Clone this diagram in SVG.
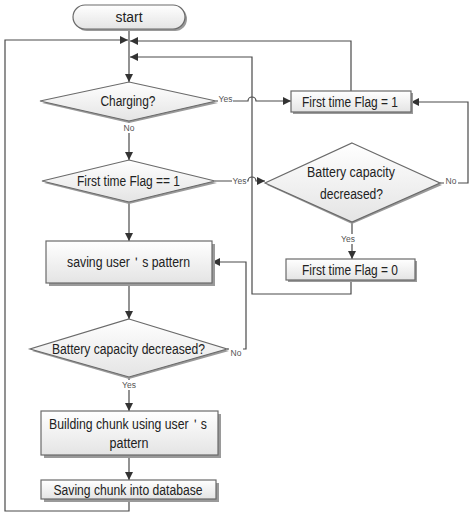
<svg xmlns="http://www.w3.org/2000/svg" width="474" height="516" viewBox="0 0 474 516">
<style>
.node{fill:url(#g);stroke:#6a6a6a;stroke-width:1.2}
.sh{fill:#9a9a9a}
.t{font-family:"Liberation Sans",Arial,sans-serif;font-size:14px;fill:#222;text-anchor:middle}
.lbl{font-family:"Liberation Sans",Arial,sans-serif;font-size:8.5px;fill:#555;text-anchor:middle}
.c{fill:none;stroke:#4a4a4a;stroke-width:1.2}
.bg{fill:#fff}
</style>
<defs>
<linearGradient id="g" x1="0" y1="0" x2="0" y2="1">
<stop offset="0" stop-color="#ffffff"/>
<stop offset="1" stop-color="#e4e4e4"/>
</linearGradient>
<marker id="a" markerWidth="8" markerHeight="8" refX="8" refY="4" orient="auto" markerUnits="userSpaceOnUse">
<path d="M0,0 L8,4 L0,8 z" fill="#333"/>
</marker>
</defs>
<rect width="474" height="516" fill="#fff"/>

<g id="connectors">
<path class="c" d="M129,29 V82" marker-end="url(#a)"/>
<path class="c" d="M129,121 V160" marker-end="url(#a)"/>
<path class="c" d="M129,202 V241" marker-end="url(#a)"/>
<path class="c" d="M129,283 V319" marker-end="url(#a)"/>
<path class="c" d="M129,377 V411" marker-end="url(#a)"/>
<path class="c" d="M129,455 V480" marker-end="url(#a)"/>
<path class="c" d="M129,499 V511 H5 V40 H128" marker-end="url(#a)"/>
<path class="c" d="M216,101 H248 A4,4 0 0 1 256,101 H291" marker-end="url(#a)"/>
<path class="c" d="M351,91 V41 H130" marker-end="url(#a)"/>
<path class="c" d="M215,181 H248 A4,4 0 0 1 256,181 H265" marker-end="url(#a)"/>
<path class="c" d="M440,183 H468 V102 H411" marker-end="url(#a)"/>
<path class="c" d="M352,222 V259" marker-end="url(#a)"/>
<path class="c" d="M351,280 V294 H252 V57 H130" marker-end="url(#a)"/>
<path class="c" d="M227,349 H246 V262 H212" marker-end="url(#a)"/>
<rect class="bg" x="218" y="94" width="15" height="10"/>
<text class="lbl" x="225.5" y="102">Yes</text>
<rect class="bg" x="122" y="123" width="14" height="10"/>
<text class="lbl" x="129" y="131">No</text>
<rect class="bg" x="232" y="176" width="15" height="10"/>
<text class="lbl" x="239.5" y="184">Yes</text>
<rect class="bg" x="444" y="176" width="14" height="10"/>
<text class="lbl" x="451" y="184">No</text>
<rect class="bg" x="340" y="234" width="16" height="10"/>
<text class="lbl" x="348" y="242">Yes</text>
<rect class="bg" x="229" y="348" width="14" height="10"/>
<text class="lbl" x="236" y="356">No</text>
<rect class="bg" x="121" y="380" width="16" height="10"/>
<text class="lbl" x="129" y="388">Yes</text>
</g>

<g id="start">
<rect class="sh" x="75" y="7" width="112" height="24" rx="12"/>
<rect class="node" x="73" y="5" width="112" height="24" rx="12"/>
<text class="t" x="129" y="22" textLength="27" lengthAdjust="spacingAndGlyphs">start</text>
</g>

<g id="charging">
<polygon class="sh" points="129,84 218,103 129,123 42,103"/>
<polygon class="node" points="129,82 216,101 129,121 40,101"/>
<text class="t" x="128" y="106" textLength="55" lengthAdjust="spacingAndGlyphs">Charging?</text>
</g>

<g id="flag-check">
<polygon class="sh" points="129,162 217,183 129,204 44,183"/>
<polygon class="node" points="129,160 215,181 129,202 42,181"/>
<text class="t" x="128.5" y="186" textLength="103" lengthAdjust="spacingAndGlyphs">First time Flag == 1</text>
</g>

<g id="saving-pattern">
<rect class="sh" x="49" y="244" width="166" height="42"/>
<rect class="node" x="46" y="241" width="166" height="42"/>
<text class="t" x="128.5" y="267" textLength="123" lengthAdjust="spacingAndGlyphs">saving user＇s pattern</text>
</g>

<g id="battery-left">
<polygon class="sh" points="129,321 229,351 129,379 32,351"/>
<polygon class="node" points="129,319 227,349 129,377 30,349"/>
<text class="t" x="128.5" y="353.5" textLength="153" lengthAdjust="spacingAndGlyphs">Battery capacity decreased?</text>
</g>

<g id="building-chunk">
<rect class="sh" x="44" y="414" width="177" height="44"/>
<rect class="node" x="41" y="411" width="177" height="44"/>
<text class="t" x="128" y="428.5" textLength="158" lengthAdjust="spacingAndGlyphs">Building chunk using user＇s</text>
<text class="t" x="129" y="447.5" textLength="39" lengthAdjust="spacingAndGlyphs">pattern</text>
</g>

<g id="saving-chunk">
<rect class="sh" x="44" y="483" width="175" height="19"/>
<rect class="node" x="41" y="480" width="175" height="19"/>
<text class="t" x="128" y="494.5" textLength="149" lengthAdjust="spacingAndGlyphs">Saving chunk into database</text>
</g>

<g id="flag-1">
<rect class="sh" x="293" y="93" width="120" height="21"/>
<rect class="node" x="291" y="91" width="120" height="21"/>
<text class="t" x="350" y="106.5" textLength="96" lengthAdjust="spacingAndGlyphs">First time Flag = 1</text>
</g>

<g id="battery-right">
<polygon class="sh" points="352,145 442,185 352,224 267,185"/>
<polygon class="node" points="352,143 440,183 352,222 265,183"/>
<text class="t" x="351" y="176.5" textLength="88" lengthAdjust="spacingAndGlyphs">Battery capacity</text>
<text class="t" x="351.5" y="198.5" textLength="63" lengthAdjust="spacingAndGlyphs">decreased?</text>
</g>

<g id="flag-0">
<rect class="sh" x="288" y="261" width="129" height="21"/>
<rect class="node" x="286" y="259" width="129" height="21"/>
<text class="t" x="350" y="274.5" textLength="96" lengthAdjust="spacingAndGlyphs">First time Flag = 0</text>
</g>
</svg>
